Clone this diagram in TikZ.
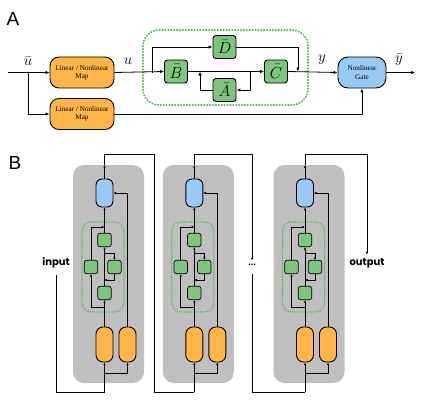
\RequirePackage{fix-cm}
\documentclass[tikz,border=0pt]{standalone}
\usepackage{amsmath}
\usepackage{fontspec}
\setmainfont{Liberation Serif}
\setsansfont{Liberation Sans}
\newfontfamily\wireFont{Poppins}
\usetikzlibrary{arrows.meta}
\definecolor{mapColor}{RGB}{255,181,72}
\definecolor{ssmColor}{RGB}{126,197,126}
\definecolor{gateColor}{RGB}{152,202,245}
\definecolor{frameColor}{RGB}{76,180,76}
\definecolor{blockColor}{RGB}{191,191,191}
\tikzstyle{canvas} = [x = 1pt, y = -1pt, >={Latex[length=4pt, width=3.4pt]}, line width = .8pt]
\tikzstyle{boxStyle} = [draw = black, line width = .9pt, align = center, inner sep = 0pt]
\tikzstyle{mapBox} = [boxStyle, fill = mapColor, rounded corners = 9pt, minimum width = 64, minimum height = 31, font = \fontsize{7.2}{8.2}\selectfont]
\tikzstyle{gateBox} = [boxStyle, fill = gateColor, rounded corners = 10pt, minimum width = 48, minimum height = 31, font = \fontsize{7.2}{8.2}\selectfont]
\tikzstyle{ssmBox} = [boxStyle, fill = ssmColor, rounded corners = 3pt, minimum size = 23, font = \fontsize{16}{18}\selectfont]
\tikzstyle{ssmFrame} = [draw = frameColor, line width = 1.8pt, dash pattern = on .5pt off 2.4pt, line cap = round, rounded corners = 16pt]
\tikzstyle{signalLabel} = [font = \fontsize{15}{17}\selectfont]
\tikzstyle{partLabel} = [font = \sffamily\fontsize{19}{21}\selectfont]
\tikzstyle{wireLabel} = [font = \wireFont\bfseries\fontsize{10}{12}\selectfont]
% small copies for the stacked blocks
\tikzstyle{blockStyle} = [fill = blockColor, rounded corners = 11pt]
\tikzstyle{blockWire} = [line width = .7pt, >={Latex[length=2.6pt, width=2.4pt]}]
\tikzstyle{mapSmall} = [boxStyle, fill = mapColor, rounded corners = 7pt, minimum width = 17, minimum height = 35]
\tikzstyle{gateSmall} = [boxStyle, fill = gateColor, rounded corners = 6pt, minimum width = 17, minimum height = 28]
\tikzstyle{ssmSmall} = [boxStyle, fill = ssmColor, rounded corners = 2.5pt, minimum size = 13.5, line width = .7pt]
\tikzstyle{frameSmall} = [draw = frameColor, line width = 1.3pt, dash pattern = on .3pt off 2pt, line cap = round, rounded corners = 9pt]
\newcommand{\ssmBlock}[2]{
  \begin{scope}[xshift = #2, blockWire]
    \fill [blockStyle] (0,165) rectangle (71,383);
    \draw [frameSmall] (9,222) rectangle (51,312);
    \node [gateSmall] (gate#1) at (31.5,193) {};
    \node [mapSmall] (mapL#1) at (31.5,344.5) {};
    \node [mapSmall] (mapR#1) at (54.5,344.5) {};
    \node [ssmSmall] (sqC#1) at (31.5,240) {};
    \node [ssmSmall] (sqD#1) at (18,267) {};
    \node [ssmSmall] (sqA#1) at (41.5,267) {};
    \node [ssmSmall] (sqB#1) at (31.5,293) {};
    \coordinate (feed#1) at (31.5,392);
    \coordinate (top#1) at (31.5,165);
    \draw [->] (feed#1) -- (mapL#1.south);
    \draw [->] (31.5,373) -| (mapR#1.south);
    \draw [->] (mapL#1.north) -- (sqB#1.south);
    \draw [->] (31.5,307) -| (sqD#1.south);
    \draw [->] (sqD#1.north) |- (31.5,227);
    \draw [->] (sqB#1.north) -- (sqC#1.south);
    \draw [->] (31.5,253) -| (sqA#1.north);
    \draw [->] (sqA#1.south) |- (31.5,280);
    \draw [->] (sqC#1.north) -- (gate#1.south);
    \draw [->] (mapR#1.north) |- (gate#1.east);
    \draw [->] (gate#1.north) -- (top#1);
  \end{scope}
}
\begin{document}
\begin{tikzpicture}[canvas]
  \useasboundingbox (0,0) rectangle (428,404);
  % A
  \node [partLabel] (labelA) at (13,19) {A};
  \draw [ssmFrame] (143,30) rectangle (308,105);
  \node [mapBox] (map1) at (82,72.5) {Linear / Nonlinear\\Map};
  \node [mapBox] (map2) at (82,114) {Linear / Nonlinear\\Map};
  \node [ssmBox] (B) at (176,71.5) {$\bar{B}$};
  \node [ssmBox] (D) at (224.5,47) {$\bar{D}$};
  \node [ssmBox] (A) at (224.5,90) {$\bar{A}$};
  \node [ssmBox] (C) at (276,71.5) {$\bar{C}$};
  \node [gateBox] (gate) at (362,72.5) {Nonlinear\\Gate};
  \coordinate (in) at (8,72.5);
  \coordinate (out) at (415,72.5);
  \node [signalLabel] (uBar) at (28,61) {$\bar{u}$};
  \node [signalLabel] (u) at (128,61) {$u$};
  \node [signalLabel] (y) at (322,60) {$y$};
  \node [signalLabel] (yBar) at (399,60) {$\bar{y}$};
  \draw [->] (in) -- (map1.west);
  \draw [->] (28,72.5) |- (map2.west);
  \draw [->] (map1.east) -- (B.west);
  \draw [->] (152,72.5) |- (D.west);
  \draw [->] (B.east) -- (C.west);
  \draw [->] (D.east) -| (298,71.5);
  \draw [->] (250,71.5) |- (A.east);
  \draw [->] (A.west) -| (200,71.5);
  \draw [->] (C.east) -- (gate.west);
  \draw [->] (map2.east) -| (gate.south);
  \draw [->] (gate.east) -- (out);
  % B
  \node [partLabel] (labelB) at (15,163) {B};
  \ssmBlock{1}{73}
  \ssmBlock{2}{162.8}
  \ssmBlock{3}{273.5}
  \node [wireLabel] (input) at (56,263) {input};
  \node [font = \bfseries] (dots) at (252,265) {...};
  \node [wireLabel] (output) at (367,263) {output};
  \coordinate (turn1) at (154,154);
  \coordinate (turn2) at (252,154);
  \coordinate (turn3) at (367,154);
  \begin{scope}[blockWire]
    \draw (input.south) ++(0,3) |- (feed1);
    \draw (top1) |- (turn1) |- (feed2);
    \draw [->] (top2) |- (turn2) -- (dots.north);
    \draw (dots.south) ++(0,4) |- (feed3);
    \draw [->] (top3) |- (turn3) -- (output.north);
  \end{scope}
\end{tikzpicture}
\end{document}
